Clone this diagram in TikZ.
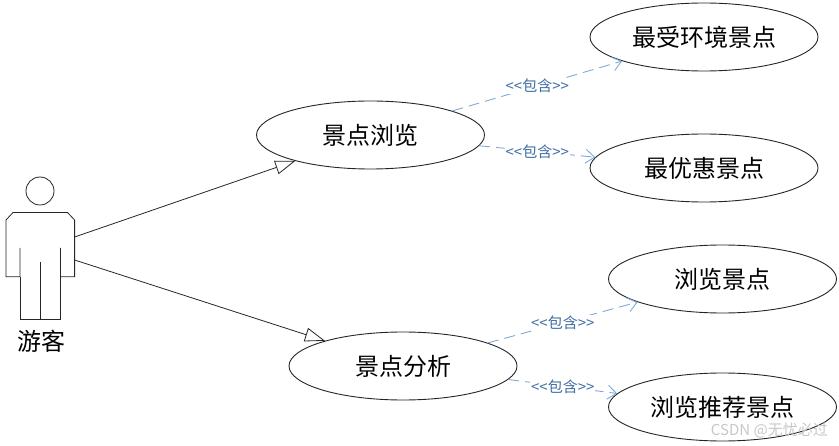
\documentclass[tikz,border=0pt]{standalone}
\usepackage{fontspec}
\setmainfont{Liberation Sans}
\newfontfamily\cjk{Noto Sans CJK SC}
\usetikzlibrary{arrows.meta,shapes.geometric}
\definecolor{incl}{HTML}{7FABD8}
\definecolor{incltext}{HTML}{3F6FA3}
\tikzset{
  usecase/.style={ellipse,draw=black!85,line width=0.9pt,minimum width=228pt,minimum height=68pt,inner sep=0pt,font=\cjk\fontsize{24}{26}\selectfont},
  assoc/.style={draw=black!85,line width=0.8pt,-{Triangle[open,fill=white,length=20pt,width=14pt,line width=0.8pt]}},
  include/.style={draw=incl,line width=0.9pt,dash pattern=on 11pt off 6pt,-{Straight Barb[length=9pt,width=14pt,line width=0.9pt]}},
  incllabel/.style={fill=white,inner sep=1pt,text=incltext,font=\cjk\fontsize{15}{17}\selectfont},
  actorline/.style={draw=black!85,line width=0.8pt,line join=miter},
  actorname/.style={font=\cjk\fontsize{24}{26}\selectfont,inner sep=0pt},
  mark text/.style={text=black!22,font=\cjk\fontsize{15}{17}\selectfont,inner sep=0pt,anchor=east}
}
\begin{document}
\begin{tikzpicture}[x=1pt,y=-1pt]
\useasboundingbox (0,0) rectangle (839,446);
% actor
\draw[actorline] (40,191) circle (14);
\draw[actorline] (20,248) -- (20,276.7) -- (6,276.7) -- (6,220) -- (13,212.5) -- (67.5,212.5) -- (74.6,220) -- (74.6,276.7) -- (60.5,276.7) -- (60.5,248);
\draw[actorline] (20,276.7) -- (20,319) -- (60.5,319) -- (60.5,276.7);
\draw[actorline] (40.3,262) -- (40.3,319);
\node[actorname] (actorname) at (41,341) {游客};
\coordinate (actorA) at (74.6,237);
\coordinate (actorB) at (74.6,260);
% use cases
\node[usecase] (browse) at (370.5,135) {景点浏览};
\node[usecase] (env) at (704,37) {最受环境景点};
\node[usecase] (deal) at (704,168) {最优惠景点};
\node[usecase] (analysis) at (403,366) {景点分析};
\node[usecase] (view) at (722.5,279) {浏览景点};
\node[usecase] (rec) at (722.5,407) {浏览推荐景点};
% connectors
\draw[assoc] (actorA) -- (browse);
\draw[assoc] (actorB) -- (analysis);
\draw[include] (browse) -- node[incllabel] {<<包含>>} (env);
\draw[include] (browse) -- node[incllabel] {<<包含>>} (deal);
\draw[include] (analysis) -- node[incllabel] {<<包含>>} (view);
\draw[include] (analysis) -- node[incllabel] {<<包含>>} (rec);
\node[mark text] (wm) at (828,430) {CSDN @无忧必过};
\end{tikzpicture}
\end{document}
